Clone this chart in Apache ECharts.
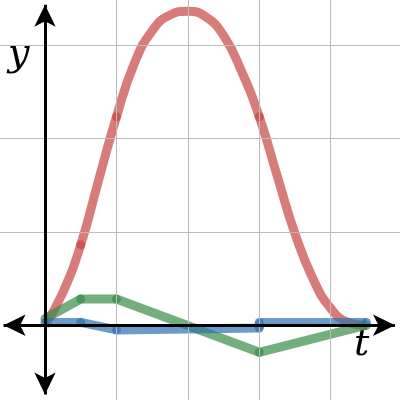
<!DOCTYPE html><html><head><meta charset="utf-8">
<script src="https://cdn.jsdelivr.net/npm/echarts@6/dist/echarts.min.js"></script>
<style>html,body{margin:0;padding:0;background:#fff}#c{width:400px;height:400px}</style></head><body><div id="c"></div>
<script>
const redData=[[0,0],[0.25,0.35],[0.5,0.86],[0.75,1.55],[1,2.23],[1.25,2.8],[1.5,3.15],[1.75,3.32],[2,3.36],[2.25,3.3],[2.5,3.1],[2.75,2.72],[3,2.23],[3.25,1.6],[3.5,0.98],[3.75,0.5],[4,0.18],[4.25,0.03],[4.5,0]];
const redPts=[[0.5,0.86],[1,2.23],[3,2.23]];
const greenData=[[0,0.07],[0.5,0.28],[1,0.28],[3,-0.29],[4.5,0]];
const bluePts=[[0,0.03],[0.5,0.03],[1,-0.05],[3,-0.03],[3,0.03],[4.5,0.03]];
const xGrid=[1,2,3,4];
const yGrid=[1,2,3];
const ch=echarts.init(document.getElementById('c'));
const ax={type:'value',axisLine:{show:false},axisTick:{show:false},axisLabel:{show:false},splitLine:{show:false}};
ch.setOption({animation:false,
grid:{left:0,right:0,top:0,bottom:0},
xAxis:Object.assign({min:-0.63,max:4.97},ax),
yAxis:Object.assign({min:-0.8,max:3.48},ax),
graphic:[{type:'text',left:8,top:36,style:{text:'y',font:'italic 38px "DejaVu Serif", serif',fill:'#000'}},
{type:'text',left:354,top:326,style:{text:'t',font:'italic 38px "DejaVu Serif", serif',fill:'#000'}}],
series:[
{type:'line',data:[],silent:true,markLine:{silent:true,symbol:['none','none'],lineStyle:{color:'#bbb',width:1,type:'solid'},label:{show:false},
data:xGrid.map(v=>({xAxis:v})).concat(yGrid.map(v=>({yAxis:v})))}},
{type:'line',data:[],silent:true,markLine:{silent:true,symbol:['arrow','arrow'],symbolSize:[16,22],lineStyle:{color:'#000',width:3,type:'solid'},label:{show:false},
data:[[{coord:[-0.58,0]},{coord:[4.9,0]}],[{coord:[0,-0.74]},{coord:[0,3.43]}]]}},
{type:'line',data:redData,smooth:true,showSymbol:false,lineStyle:{color:'#c74440',width:9,opacity:0.7}},
{type:'scatter',data:redPts,symbolSize:9,itemStyle:{color:'#c74440',opacity:0.7}},
{type:'line',data:greenData,symbol:'circle',symbolSize:9,itemStyle:{color:'#388c46',opacity:0.7},lineStyle:{color:'#388c46',width:9,opacity:0.7}},
{type:'line',data:bluePts,symbol:'circle',symbolSize:9,itemStyle:{color:'#2d70b3',opacity:0.7},lineStyle:{color:'#2d70b3',width:9,opacity:0.7}}
]});
</script></body></html>
